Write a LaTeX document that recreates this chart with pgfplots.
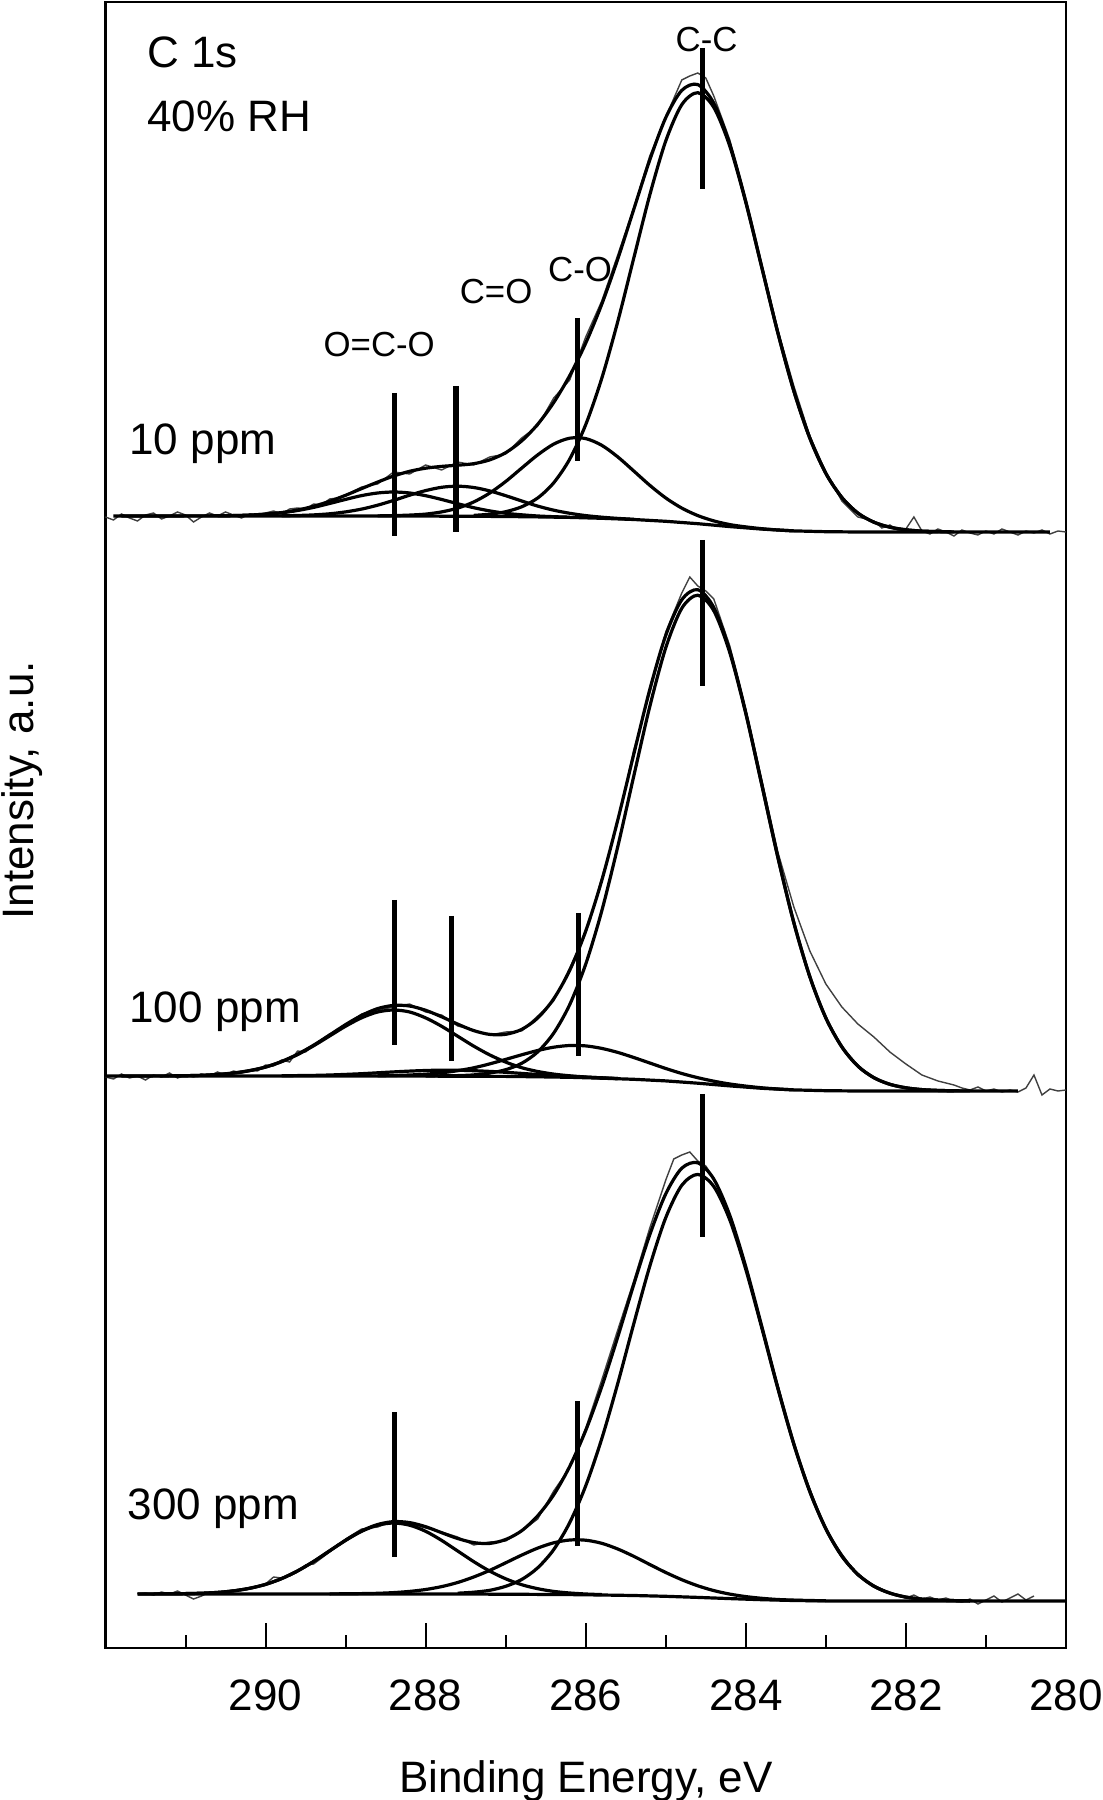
\documentclass[border=0pt]{standalone}
\usepackage{fontspec}
\setmainfont{Liberation Sans}
\usepackage{pgfplots}
\pgfplotsset{compat=1.18}
\pgfplotsset{
  fit/.style={black, line width=0.8pt, smooth, no marks},
  base/.style={black, line width=0.8pt, no marks},
  raw/.style={black!75, line width=0.35pt, no marks},
  mk/.style={black, line width=1.3pt, no marks},
}
\begin{document}
\begin{tikzpicture}
\begin{axis}[
  width=240.125pt, height=411.5pt, scale only axis,
  x dir=reverse, xmin=280, xmax=292, ymin=0, ymax=1646,
  xtick={280,282,...,290}, minor xtick={281,283,...,291},
  xtick pos=bottom, ytick=\empty, tick align=inside,
  major tick length=6.25pt, minor tick length=3.3pt,
  every tick/.style={line width=0.5pt, black},
  axis line style={line width=0.6pt},
  /pgf/number format/assume math mode=true,
  ticklabel style={font=\fontsize{11}{13}\selectfont},
  xticklabel style={yshift=-4.5pt},
  xlabel={Binding Energy, eV}, ylabel={Intensity, a.u.},
  label style={font=\fontsize{11}{13}\selectfont},
  xlabel style={at={(axis description cs:0.5,0)}, anchor=north, yshift=-24.7pt},
  ylabel style={at={(axis description cs:-0.087,0.521)}, anchor=center},
]
% ---------------- Panel 1 : 10 ppm ----------------
\addplot[raw] coordinates {(292.0,1131)(291.9,1128)(291.8,1134)(291.7,1130)(291.6,1127)(291.5,1133)(291.4,1135)(291.3,1129)(291.2,1132)(291.1,1136)(291.0,1133)(290.9,1126)(290.8,1131)(290.7,1135)(290.6,1132)(290.5,1136)(290.4,1133)(290.3,1130)(290.2,1134)(290.1,1132)(290.0,1135)(289.9,1137)(289.8,1134)(289.7,1139)(289.6,1140)(289.5,1139)(289.4,1144)(289.3,1143)(289.2,1149)(289.1,1150)(289.0,1153)(288.8,1161)(288.6,1164)(288.4,1176)(288.2,1174)(288.0,1183)(287.8,1178)(287.6,1186)(287.4,1183)(287.2,1191)(287.0,1194)(286.8,1210)(286.6,1222)(286.4,1250)(286.2,1268)(286.0,1311)(285.8,1347)(285.6,1393)(285.4,1440)(285.2,1492)(285.0,1531)(284.8,1568)(284.7,1572)(284.6,1575)(284.5,1570)(284.4,1552)(284.2,1508)(284.0,1447)(283.8,1383)(283.6,1318)(283.4,1262)(283.2,1212)(283.0,1176)(282.8,1147)(282.6,1131)(282.4,1127)(282.3,1120)(282.2,1123)(282.1,1118)(282.0,1119)(281.9,1131)(281.8,1117)(281.7,1114)(281.6,1119)(281.5,1116)(281.4,1112)(281.3,1118)(281.2,1115)(281.1,1113)(281.0,1117)(280.9,1114)(280.8,1119)(280.7,1116)(280.6,1113)(280.5,1117)(280.4,1115)(280.3,1118)(280.2,1114)(280.1,1117)(280.0,1116)};
\addplot[base] coordinates {(291.9,1132)(288.8,1132)(288.0,1131.9)(287.4,1131.7)(287.0,1131.5)(286.6,1131.1)(286.2,1130.6)(285.8,1129.7)(285.4,1128.5)(285.0,1126.7)(284.6,1124.3)(284.2,1121.4)(283.8,1118.9)(283.4,1117.1)(283.0,1116.3)(282.6,1116)(280.2,1116)};
\addplot[fit] coordinates {(291.8,1132.0)(291.4,1132.0)(291.2,1132.0)(291.0,1132.1)(290.8,1132.1)(290.6,1132.2)(290.4,1132.4)(290.2,1132.9)(290.0,1133.9)(289.8,1135.4)(289.6,1138.0)(289.4,1141.7)(289.2,1146.7)(289.0,1152.7)(288.8,1159.4)(288.6,1165.9)(288.4,1172.0)(288.2,1176.7)(288.0,1179.8)(287.8,1181.6)(287.6,1182.8)(287.4,1184.3)(287.2,1188.1)(287.0,1195.3)(286.8,1207.1)(286.6,1223.7)(286.4,1245.5)(286.2,1272.4)(286.0,1304.9)(285.8,1343.7)(285.6,1388.9)(285.4,1438.6)(285.2,1488.0)(285.0,1530.4)(284.8,1557.6)(284.6,1563.4)(284.4,1544.8)(284.2,1503.8)(284.0,1446.4)(283.8,1380.7)(283.6,1315.3)(283.4,1257.0)(283.2,1209.8)(283.0,1174.6)(282.8,1150.5)(282.6,1134.9)(282.4,1125.8)(282.2,1120.8)(282.0,1118.2)(281.8,1116.9)(281.6,1116.4)(281.4,1116.1)};
\addplot[fit] coordinates {(287.4,1132.6)(287.2,1133.8)(287.0,1136.3)(286.8,1141.2)(286.6,1150.0)(286.4,1165.2)(286.2,1188.9)(286.0,1223.4)(285.8,1269.6)(285.6,1326.4)(285.4,1389.9)(285.2,1453.0)(285.0,1507.1)(284.8,1543.3)(284.6,1555.3)(284.4,1540.6)(284.2,1501.8)(284.0,1445.5)(283.8,1380.3)(283.6,1315.2)(283.4,1257.0)(283.2,1209.8)(283.0,1174.6)(282.8,1150.5)(282.6,1134.9)(282.4,1125.8)(282.2,1120.8)(282.0,1118.2)(281.8,1116.9)(281.6,1116.4)};
\addplot[fit] coordinates {(288.6,1132.1)(288.4,1132.4)(288.2,1132.9)(288.0,1133.9)(287.8,1136.1)(287.6,1139.9)(287.4,1146.0)(287.2,1154.9)(287.0,1166.5)(286.8,1179.9)(286.6,1193.1)(286.4,1203.9)(286.2,1209.8)(286.0,1209.4)(285.8,1202.7)(285.6,1191.1)(285.4,1177.0)(285.2,1162.7)(285.0,1150.0)(284.8,1139.9)(284.6,1132.4)(284.4,1127.1)(284.2,1123.4)(284.0,1121.1)(283.8,1119.3)(283.6,1118.0)(283.4,1117.1)};
\addplot[fit] coordinates {(289.8,1132.2)(289.6,1132.5)(289.4,1133.1)(289.2,1134.2)(289.0,1136.1)(288.8,1138.9)(288.6,1142.8)(288.4,1147.6)(288.2,1152.8)(288.0,1157.4)(287.8,1160.7)(287.6,1161.8)(287.4,1160.5)(287.2,1157.1)(287.0,1152.3)(286.8,1147.0)(286.6,1141.9)(286.4,1137.8)(286.2,1134.7)(286.0,1132.4)(285.8,1130.8)(285.6,1129.6)(285.4,1128.7)};
\addplot[fit] coordinates {(290.6,1132.2)(290.4,1132.4)(290.2,1132.9)(290.0,1133.8)(289.8,1135.2)(289.6,1137.5)(289.4,1140.6)(289.2,1144.5)(289.0,1148.6)(288.8,1152.4)(288.6,1155.0)(288.4,1156.0)(288.2,1155.0)(288.0,1152.3)(287.8,1148.5)(287.6,1144.3)(287.4,1140.3)(287.2,1137.1)(287.0,1134.7)(286.8,1133.2)(286.6,1132.0)(286.4,1131.3)(286.2,1130.8)};
\addplot[mk] coordinates {(288.39,1255)(288.39,1112)};
\addplot[mk] coordinates {(287.62,1262)(287.62,1116)};
\addplot[mk] coordinates {(286.10,1330)(286.10,1187)};
\addplot[mk] coordinates {(284.54,1600)(284.54,1459)};
% ---------------- Panel 2 : 100 ppm ----------------
\addplot[raw] coordinates {(292.0,571)(291.9,569)(291.8,574)(291.7,570)(291.6,572)(291.5,568)(291.4,573)(291.3,571)(291.2,575)(291.1,570)(291.0,573)(290.9,571)(290.8,574)(290.7,572)(290.6,576)(290.5,573)(290.4,577)(290.3,575)(290.2,578)(290.1,577)(290.0,583)(289.9,582)(289.8,588)(289.7,586)(289.6,597)(289.5,596)(289.4,603)(289.2,614)(289.0,622)(288.8,634)(288.6,638)(288.4,641)(288.2,644)(288.0,636)(287.8,633)(287.6,622)(287.4,618)(287.2,613)(287.0,616)(286.8,617)(286.6,632)(286.4,647)(286.2,680)(286.0,715)(285.8,770)(285.6,826)(285.4,898)(285.2,955)(285.0,1016)(284.8,1055)(284.7,1071)(284.6,1062)(284.5,1057)(284.4,1049)(284.2,1002)(284.0,938)(283.8,868)(283.6,796)(283.4,741)(283.2,697)(283.0,664)(282.8,641)(282.6,624)(282.4,611)(282.2,596)(282.0,584)(281.8,573)(281.6,567)(281.4,563)(281.3,560)(281.2,558)(281.1,561)(281.0,557)(280.9,559)(280.8,556)(280.7,558)(280.6,556)(280.5,560)(280.4,573)(280.3,553)(280.2,559)(280.1,557)(280.0,558)};
\addplot[base] coordinates {(292.0,572)(288.8,572)(288.0,571.9)(287.4,571.7)(287.0,571.6)(286.6,571.2)(286.2,570.7)(285.8,569.8)(285.4,568.7)(285.0,567.1)(284.6,564.8)(284.2,562.1)(283.8,559.7)(283.4,558.1)(283.0,557.3)(282.6,557)(280.6,557)};
\addplot[fit] coordinates {(291.8,572.0)(291.4,572.1)(291.2,572.1)(291.0,572.3)(290.8,572.7)(290.6,573.6)(290.4,575.0)(290.2,577.4)(290.0,581.0)(289.8,586.5)(289.6,593.8)(289.4,602.8)(289.2,613.0)(289.0,623.4)(288.8,632.6)(288.6,639.4)(288.4,642.6)(288.2,642.0)(288.0,637.7)(287.8,631.2)(287.6,623.9)(287.4,617.4)(287.2,613.6)(287.0,613.7)(286.8,618.6)(286.6,630.0)(286.4,649.2)(286.2,677.7)(286.0,717.0)(285.8,767.5)(285.6,827.9)(285.4,893.7)(285.2,958.4)(285.0,1012.7)(284.8,1048.2)(284.6,1058.3)(284.4,1040.5)(284.2,997.2)(284.0,935.3)(283.8,863.4)(283.6,791.0)(283.4,725.3)(283.2,671.2)(283.0,630.0)(282.8,601.1)(282.6,581.9)(282.4,570.3)(282.2,563.7)(282.0,560.2)(281.8,558.4)(281.6,557.6)(281.4,557.2)(281.2,557.1)};
\addplot[fit] coordinates {(288.0,572.0)(287.6,572.4)(287.4,573.1)(287.2,574.9)(287.0,578.3)(286.8,584.7)(286.6,596.1)(286.4,614.9)(286.2,643.4)(286.0,683.9)(285.8,737.0)(285.6,801.3)(285.4,871.9)(285.2,941.4)(285.0,1000.3)(284.8,1039.7)(284.6,1052.8)(284.4,1037.2)(284.2,995.3)(284.0,934.3)(283.8,862.9)(283.6,790.8)(283.4,725.3)(283.2,671.2)(283.0,630.0)(282.8,601.1)(282.6,581.9)(282.4,570.3)(282.2,563.7)(282.0,560.2)(281.8,558.4)(281.6,557.6)(281.4,557.2)};
\addplot[fit] coordinates {(288.6,572.2)(288.4,572.5)(288.2,573.0)(288.0,573.8)(287.8,575.2)(287.6,577.3)(287.4,580.2)(287.2,584.1)(287.0,588.6)(286.8,593.2)(286.6,597.5)(286.4,600.8)(286.2,602.5)(286.0,602.1)(285.8,599.6)(285.6,595.6)(285.4,590.5)(285.2,585.0)(285.0,579.5)(284.8,574.5)(284.6,570.3)(284.4,566.8)(284.2,564.0)(284.0,561.9)(283.8,560.2)(283.6,559.0)(283.4,558.1)};
\addplot[fit] coordinates {(289.8,572.2)(289.6,572.4)(289.4,572.6)(289.2,573.0)(289.0,573.6)(288.8,574.3)(288.6,575.2)(288.4,576.1)(288.2,576.9)(288.0,577.5)(287.8,577.85)(287.6,577.75)(287.4,577.3)(287.2,576.6)(287.0,575.7)(286.8,574.6)(286.6,573.5)(286.4,572.6)(286.2,571.7)(286.0,570.9)(285.8,570.2)(285.6,569.5)};
\addplot[fit] coordinates {(291.2,572.1)(291.0,572.3)(290.8,572.7)(290.6,573.5)(290.4,574.9)(290.2,577.3)(290.0,580.9)(289.8,586.3)(289.6,593.4)(289.4,602.2)(289.2,612.0)(289.0,621.8)(288.8,630.2)(288.6,636.0)(288.4,638.0)(288.2,636.0)(288.0,630.1)(287.8,621.7)(287.6,611.8)(287.4,601.9)(287.2,593.1)(287.0,585.9)(286.8,580.3)(286.6,576.5)(286.4,573.9)(286.2,572.2)(286.0,571.0)(285.8,570.1)(285.6,569.4)};
\addplot[mk] coordinates {(288.39,748)(288.39,603)};
\addplot[mk] coordinates {(287.68,732)(287.68,587)};
\addplot[mk] coordinates {(286.09,735)(286.09,592)};
\addplot[mk] coordinates {(284.54,1108)(284.54,962)};
% ---------------- Panel 3 : 300 ppm ----------------
\addplot[raw] coordinates {(291.6,54)(291.5,55)(291.4,53)(291.3,56)(291.2,54)(291.1,57)(291.0,53)(290.9,49)(290.8,52)(290.7,56)(290.6,55)(290.5,57)(290.4,58)(290.3,59)(290.2,60)(290.1,62)(290.0,64)(289.9,71)(289.8,70)(289.7,72)(289.6,76)(289.5,83)(289.4,84)(289.2,96)(289.0,109)(288.8,119)(288.6,121)(288.4,127)(288.2,124)(288.0,120)(287.8,116)(287.6,111)(287.4,103)(287.2,106)(287.0,107)(286.8,117)(286.6,129)(286.4,157)(286.2,180)(286.0,220)(285.8,268)(285.6,318)(285.4,367)(285.2,420)(285.0,468)(284.9,489)(284.8,493)(284.7,496)(284.6,487)(284.5,482)(284.4,470)(284.2,432)(284.0,382)(283.8,318)(283.6,263)(283.4,202)(283.2,159)(283.0,118)(282.8,94)(282.6,72)(282.4,63)(282.2,55)(282.1,52)(282.0,50)(281.9,53)(281.8,49)(281.7,51)(281.6,48)(281.5,50)(281.4,47)(281.3,46)(281.2,49)(281.1,44)(281.0,48)(280.9,52)(280.8,46)(280.7,50)(280.6,54)(280.5,48)(280.4,52)};
\addplot[base] coordinates {(291.6,54)(288.8,54)(288.0,54.0)(287.4,53.9)(287.0,53.8)(286.6,53.6)(286.2,53.4)(285.8,53.0)(285.4,52.5)(285.0,51.7)(284.6,50.6)(284.2,49.4)(283.8,48.3)(283.4,47.5)(283.0,47.1)(282.8,47)(280.0,47)};
\addplot[fit] coordinates {(291.6,54.0)(291.4,54.1)(291.2,54.2)(291.0,54.4)(290.8,54.8)(290.6,55.6)(290.4,57.1)(290.2,59.7)(290.0,63.6)(289.8,69.4)(289.6,77.1)(289.4,86.5)(289.2,97.2)(289.0,107.8)(288.8,117.1)(288.6,123.5)(288.4,126.4)(288.2,125.4)(288.0,121.3)(287.8,115.3)(287.6,109.5)(287.4,105.4)(287.2,104.6)(287.0,108.5)(286.8,117.3)(286.6,132.2)(286.4,153.2)(286.2,181.6)(286.0,217.6)(285.8,261.3)(285.6,311.0)(285.4,363.5)(285.2,413.2)(285.0,454.2)(284.8,479.8)(284.6,485.2)(284.4,468.9)(284.2,432.6)(284.0,381.1)(283.8,321.4)(283.6,260.3)(283.4,204.1)(283.2,156.5)(283.0,119.2)(282.8,91.9)(282.6,73.6)(282.4,61.8)(282.2,54.9)(282.0,50.9)(281.8,48.9)(281.6,47.9)(281.4,47.4)(281.2,47.1)};
\addplot[fit] coordinates {(287.6,54.8)(287.4,55.8)(287.2,57.7)(287.0,61.7)(286.8,68.5)(286.6,80.2)(286.4,98.4)(286.2,125.4)(286.0,162.2)(285.8,209.2)(285.6,264.5)(285.4,324.2)(285.2,381.8)(285.0,430.4)(284.8,462.7)(284.6,473.6)(284.4,461.5)(284.2,428.1)(284.0,378.5)(283.8,320.0)(283.6,259.6)(283.4,203.7)(283.2,156.3)(283.0,119.1)(282.8,91.9)(282.6,73.6)(282.4,61.8)(282.2,54.9)(282.0,50.9)(281.8,48.9)(281.6,47.9)(281.4,47.4)(281.2,47.1)};
\addplot[fit] coordinates {(289.2,54.1)(289.0,54.2)(288.8,54.4)(288.6,54.7)(288.4,55.4)(288.2,56.6)(288.0,58.5)(287.8,61.4)(287.6,65.5)(287.4,71.0)(287.2,77.6)(287.0,85.2)(286.8,92.9)(286.6,99.9)(286.4,105.2)(286.2,108.0)(286.0,107.8)(285.8,104.7)(285.6,99.0)(285.4,91.7)(285.2,83.5)(285.0,75.5)(284.8,68.3)(284.6,62.2)(284.4,57.4)(284.2,53.9)(284.0,51.4)(283.8,49.7)(283.6,48.5)(283.4,47.9)(283.2,47.5)(283.0,47.2)};
\addplot[fit] coordinates {(291.4,54.1)(291.2,54.2)(291.0,54.4)(290.8,54.8)(290.6,55.6)(290.4,57.1)(290.2,59.7)(290.0,63.6)(289.8,69.4)(289.6,77.1)(289.4,86.5)(289.2,97.1)(289.0,107.6)(288.8,116.7)(288.6,122.8)(288.4,125.0)(288.2,122.8)(288.0,116.7)(287.8,107.6)(287.6,97.0)(287.4,86.4)(287.2,76.9)(287.0,69.2)(286.8,63.3)(286.6,59.3)(286.4,56.6)(286.2,55.0)(286.0,54.0)(285.8,53.4)};
\addplot[mk] coordinates {(288.39,236)(288.39,91)};
\addplot[mk] coordinates {(286.10,247)(286.10,102)};
\addplot[mk] coordinates {(284.54,554)(284.54,411)};
% ---------------- Text ----------------
\node[anchor=base west, inner sep=0pt, font=\fontsize{11}{13}\selectfont] at (axis cs:291.49,1580) {C 1s};
\node[anchor=base west, inner sep=0pt, font=\fontsize{11}{13}\selectfont] at (axis cs:291.49,1516) {40\% RH};
\node[anchor=base west, inner sep=0pt, font=\fontsize{11}{13}\selectfont] at (axis cs:291.71,1193) {10 ppm};
\node[anchor=base west, inner sep=0pt, font=\fontsize{11}{13}\selectfont] at (axis cs:291.71,625) {100 ppm};
\node[anchor=base west, inner sep=0pt, font=\fontsize{11}{13}\selectfont] at (axis cs:291.73,129) {300 ppm};
\node[anchor=base, inner sep=0pt, font=\fontsize{8.7}{10}\selectfont] at (axis cs:288.58,1291) {O=C-O};
\node[anchor=base, inner sep=0pt, font=\fontsize{8.7}{10}\selectfont] at (axis cs:287.12,1344) {C=O};
\node[anchor=base, inner sep=0pt, font=\fontsize{8.7}{10}\selectfont] at (axis cs:286.07,1366) {C-O};
\node[anchor=base, inner sep=0pt, font=\fontsize{8.7}{10}\selectfont] at (axis cs:284.49,1596) {C-C};
\end{axis}
\pgfresetboundingbox
\path (current axis.south west) ++(-26.375pt,-38pt) rectangle (current axis.north east);
\path (current axis.north east) ++(9.25pt,0.5pt) coordinate (ne);
\path (current axis.south west) ++(-26.375pt,-38pt) rectangle (ne);
\end{tikzpicture}
\end{document}
